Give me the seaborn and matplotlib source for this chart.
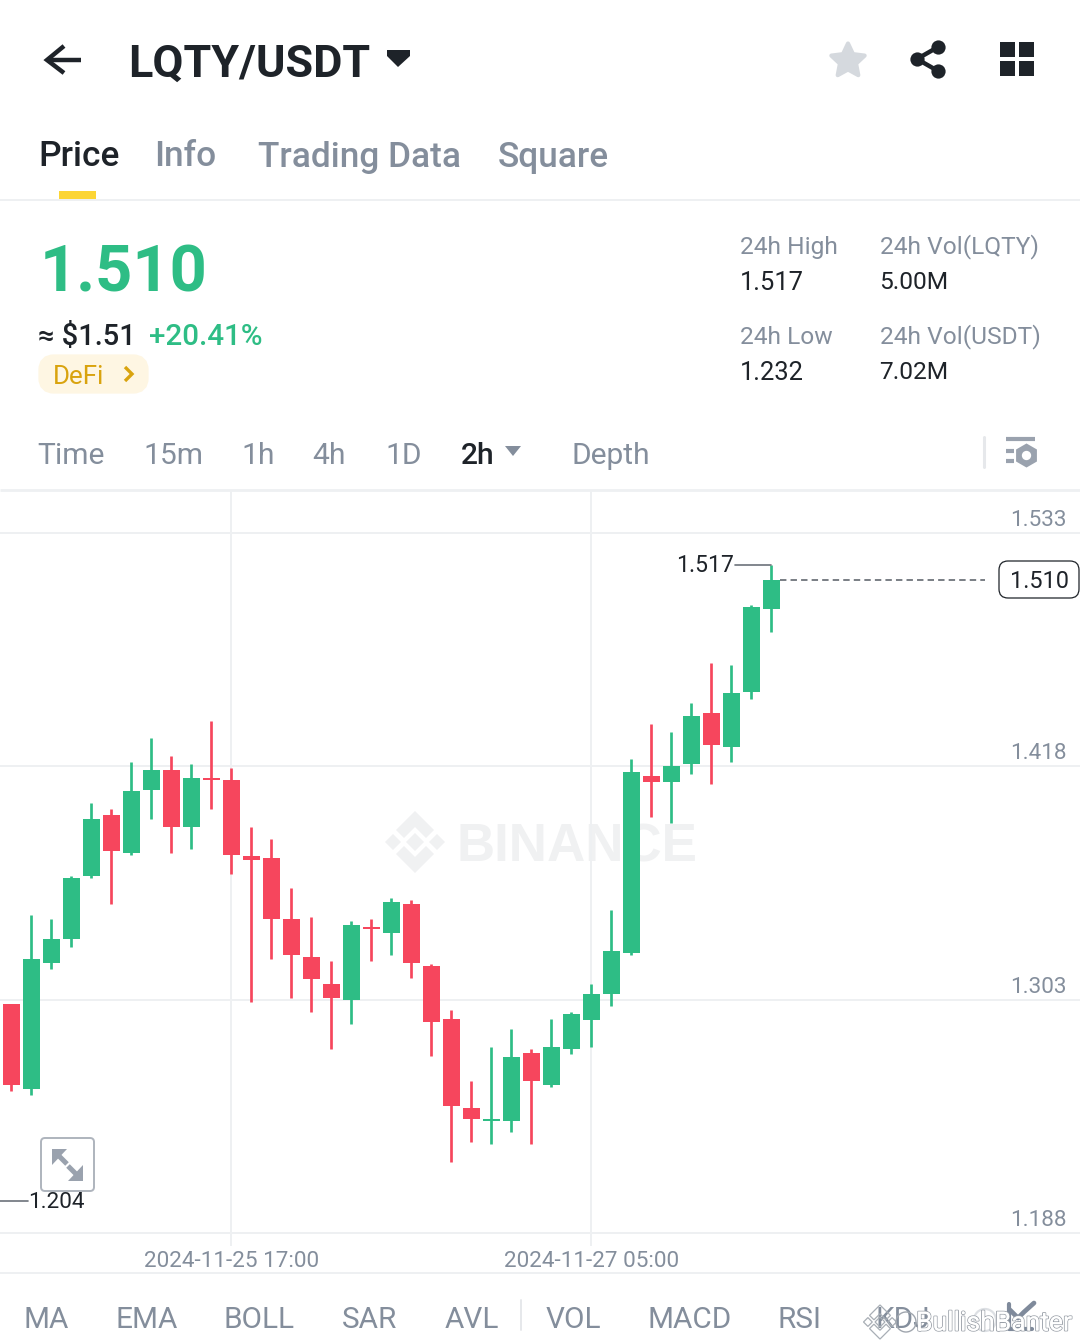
import matplotlib
matplotlib.use("Agg")
import matplotlib.pyplot as plt
import matplotlib.patheffects as pe
from matplotlib.patches import FancyBboxPatch, Polygon, Rectangle, Circle
import numpy as np
import pandas as pd
import seaborn as sns

# ---------- data ----------
colors_up = [0,1,1,1,1,0,1,1,0,1,0,0,0,0,0,0,0,1,0,1,0,0,0,0,1,1,0,1,1,1,1,1,0,1,1,0,1,1,1]
highs = [1.3009,1.3447,1.3428,1.3640,1.3999,1.3970,1.4201,1.4320,1.4231,1.4192,1.4403,1.4172,1.3881,
         1.3822,1.3580,1.3437,1.3221,1.3418,1.3428,1.3531,1.3521,1.3208,1.2979,1.2629,1.2797,1.2885,
         1.2787,1.2937,1.2969,1.3107,1.3472,1.4218,1.4389,1.4351,1.4490,1.4691,1.4681,1.4973,1.5170]
tops = [1.3009,1.3230,1.3329,1.3630,1.3920,1.3940,1.4058,1.4162,1.4162,1.4123,1.4123,1.4113,1.3738,
        1.3728,1.3428,1.3240,1.3107,1.3398,1.3388,1.3511,1.3502,1.3198,1.2937,1.2496,1.2442,1.2747,
        1.2767,1.2797,1.2957,1.3058,1.3270,1.4152,1.4130,1.4182,1.4428,1.4443,1.4541,1.4963,1.5100]
bottoms = [1.2609,1.2590,1.3211,1.3329,1.3640,1.3763,1.3753,1.4063,1.3881,1.3881,1.4113,1.3743,1.3718,
           1.3428,1.3250,1.3132,1.3038,1.3028,1.3378,1.3359,1.3211,1.2920,1.2508,1.2442,1.2432,1.2430,
           1.2629,1.2609,1.2787,1.2930,1.3058,1.3260,1.4103,1.4103,1.4192,1.4283,1.4273,1.4544,1.4953]
lows = [1.2580,1.2560,1.3181,1.3290,1.3630,1.3502,1.3743,1.3920,1.3753,1.3773,1.3970,1.3649,1.3019,
        1.3230,1.3038,1.2969,1.2787,1.2910,1.3221,1.3250,1.3137,1.2750,1.2230,1.2328,1.2319,1.2378,
        1.2319,1.2600,1.2760,1.2797,1.2999,1.3250,1.3930,1.3901,1.4142,1.4093,1.4201,1.4514,1.4844]
grid_prices = [1.533, 1.418, 1.303, 1.188]
date_ticks = [11, 29]
date_labels = ["2024-11-25 17:00", "2024-11-27 05:00"]
last_price = 1.510
peak_price = 1.517
floor_price = 1.204
tabs = ["Price", "Info", "Trading Data", "Square"]
intervals = ["Time", "15m", "1h", "4h", "1D", "2h", "Depth"]
indicators = ["MA", "EMA", "BOLL", "SAR", "AVL", "VOL", "MACD", "RSI", "KDJ"]

# ---------- palette ----------
UP, DOWN = "#2EBD85", "#F6465D"
INK, GREY, LINE = "#1E2329", "#848E9C", "#EEF0F2"

sns.set_theme(style="white")
plt.rcParams["font.family"] = ["Roboto", "DejaVu Sans"]

W, H = 1080, 1343
fig = plt.figure(figsize=(W / 100, H / 100), dpi=100, facecolor="white")

# ---------- page furniture in pixel coordinates ----------
ui = fig.add_axes([0, 0, 1, 1], zorder=0)
ui.set_xlim(0, W); ui.set_ylim(H, 0); ui.axis("off")

def px(size):
    return size * 0.72

def T(x, y, s, size, color=GREY, weight="normal", ha="left", **kw):
    return ui.text(x, y, s, fontsize=px(size), color=color, fontweight=weight,
                   ha=ha, va="center_baseline", **kw)

def poly(pts, color, **kw):
    ui.add_patch(Polygon(pts, closed=True, facecolor=color, edgecolor="none", **kw))

def rule(y, x0=0, x1=W, color=LINE, lw=1.4):
    ui.plot([x0, x1], [y, y], color=color, lw=lw, solid_capstyle="butt")

# header
ui.plot([81, 48], [60, 60], color=INK, lw=3.2, solid_capstyle="butt")
ui.plot([64, 47, 64], [46, 60, 73], color=INK, lw=3.2, solid_joinstyle="miter", solid_capstyle="butt")
T(128, 60, "LQTY/USDT", 45, INK, "bold")
poly([(387, 50), (410, 50), (410, 56), (398, 67), (387, 56)], INK)

star_angles = np.deg2rad(np.arange(10) * 36 - 90)
star_radii = np.array([17.5, 8.5] * 5)
ui.add_patch(Polygon(np.column_stack([848 + star_radii * np.cos(star_angles), 61 + star_radii * np.sin(star_angles)]),
                     closed=True, facecolor="#D5D9DE", edgecolor="#D5D9DE", lw=3.0, joinstyle="round"))

for a, b in [((917, 59), (938, 47)), ((917, 59), (938, 71))]:
    ui.plot([a[0], b[0]], [a[1], b[1]], color=INK, lw=3.2)
ui.scatter([917, 938, 938], [59, 47, 71], s=105, color=INK, linewidths=0)
for x0, y0 in [(1000, 42), (1019, 42), (1000, 61), (1019, 61)]:
    ui.add_patch(Rectangle((x0, y0), 15, 15, facecolor=INK, edgecolor="none"))

# tabs
for s, x, c in zip(tabs, [38, 154, 258.5, 497.5], [INK, GREY, GREY, GREY]):
    T(x, 153.5, s, 35.3, c, "medium")
ui.add_patch(Rectangle((59, 191), 37, 8, facecolor="#FCD535", edgecolor="none"))
rule(199.5)

# quote block
T(40, 267, "1.510", 65, UP, "bold")
T(38, 334, "≈ $1.51", 29, INK, "medium")
T(149, 334, "+20.41%", 29.5, UP, "medium")
ui.add_patch(FancyBboxPatch((46, 362), 95, 24, boxstyle="round,pad=0,rounding_size=8", mutation_aspect=1,
                            facecolor="#FEF6E3", edgecolor="#FEF6E3", lw=11))
T(53, 374, "DeFi", 26, "#D9A30E")
ui.plot([125, 132, 125], [367, 374, 381], color="#D9A30E", lw=2.4, solid_capstyle="butt", solid_joinstyle="miter")

for x, y, s, c, z in [(740, 245, "24h High", GREY, 24.5), (740, 281, "1.517", INK, 25.5),
                      (879.5, 244, "24h Vol(LQTY)", GREY, 24.5), (879, 280, "5.00M", INK, 24.5),
                      (740, 335, "24h Low", GREY, 24.5), (740, 371, "1.232", INK, 25.5),
                      (879.5, 334, "24h Vol(USDT)", GREY, 24.5), (879, 370, "7.02M", INK, 24.5)]:
    T(x, y, s, z, c)

# interval row
for s, x in zip(intervals, [37.5, 143.5, 241, 312, 385, 461, 572]):
    active = s == "2h"
    T(x, 453, s, 30, INK if active else GREY, "medium" if active else "normal")
poly([(505, 446), (521, 446), (513, 456)], GREY)
ui.plot([984, 984], [437, 467], color="#E6E8EB", lw=2.2)
rule(439, 1006, 1035, "#9AA2AE", 3)
rule(451, 1006, 1014, "#9AA2AE", 3)
rule(461, 1006, 1014, "#9AA2AE", 3)
ui.scatter([1026], [455], marker="h", s=300, color="#9AA2AE", linewidths=0)
ui.scatter([1026], [455], marker="o", s=45, color="white", linewidths=0)
rule(490, lw=2)

# chart frame
rule(1273)

# watermark logo
def logo(cx, cy, k, face, edge="none", z=1):
    shapes = [
        [(0, -9), (9, 0), (0, 9), (-9, 0)],
        [(-22, -8), (-14, 0), (-22, 8), (-30, 0)],
        [(22, -8), (30, 0), (22, 8), (14, 0)],
        [(0, -31), (19, -12), (11, -4), (0, -15), (-11, -4), (-19, -12)],
        [(0, 31), (19, 12), (11, 4), (0, 15), (-11, 4), (-19, 12)],
    ]
    for s in shapes:
        ui.add_patch(Polygon([(cx + k * a, cy + k * b) for a, b in s], closed=True,
                             facecolor=face, edgecolor=edge, lw=0.9, zorder=z))

logo(415, 842, 1.0, "#F0F1F2")
ui.text(457, 842, "BINANCE", fontsize=px(53), color="#F0F1F2", fontweight="bold",
        ha="left", va="center_baseline", family="Liberation Sans")

# expand button
ui.add_patch(FancyBboxPatch((41, 1138), 53, 53, boxstyle="round,pad=0,rounding_size=4",
                            facecolor="white", edgecolor="#AEB4BD", lw=1.4, zorder=3))
poly([(52, 1149), (67, 1149), (52, 1165)], "#9AA2AE", zorder=4)
poly([(83, 1181), (68, 1181), (83, 1165)], "#9AA2AE", zorder=4)
ui.plot([58, 67], [1155, 1164], color="#9AA2AE", lw=3.6, zorder=4, solid_capstyle="butt")
ui.plot([77, 68], [1175, 1166], color="#9AA2AE", lw=3.6, zorder=4, solid_capstyle="butt")

# last price box
ui.add_patch(FancyBboxPatch((999, 561), 80, 37, boxstyle="round,pad=0,rounding_size=9",
                            facecolor="white", edgecolor=INK, lw=0.9, zorder=3))

# indicator row
for s, x in zip(indicators, [24, 115, 223, 342, 445, 545.5, 648, 778, 875]):
    T(x, 1317, s, 29.7, GREY)
ui.plot([521, 521], [1300, 1330], color="#E6E8EB", lw=1.4)
ui.plot([1009, 1009, 1032], [1304, 1329, 1329], color="#7F8A9B", lw=3)
ui.plot([1010, 1018, 1024, 1034], [1310, 1318, 1312, 1303], color="#7F8A9B", lw=3.4)

# credit watermark
logo(880, 1322, 0.55, "none", "#A8AEB5", z=5)
ui.add_patch(Circle((906, 1322), 10, facecolor="none", edgecolor="#A0A6AE", lw=1, zorder=5))
ui.add_patch(Circle((985, 1320), 11, facecolor="none", edgecolor="#DDE0E4", lw=1.6, zorder=5))
ui.text(916, 1320, "BullishBanter", fontsize=px(26.5), color="white", ha="left", va="center_baseline", zorder=6,
        path_effects=[pe.withStroke(linewidth=1.3, foreground="#9AA0A8"), pe.Normal()])

# ---------- candle chart ----------
ax = fig.add_axes([0, 1 - 1273 / H, 1, (1273 - 491) / H], zorder=1)
ax.patch.set_visible(False)

df = pd.DataFrame({"i": np.arange(len(highs)), "up": colors_up, "high": highs, "top": tops,
                   "bottom": bottoms, "low": lows})
df["body"] = df["top"] - df["bottom"]

for flag, color in [(1, UP), (0, DOWN)]:
    sub = df[df["up"] == flag]
    ax.vlines(sub["i"], sub["low"], sub["high"], color=color, lw=px(2.7), zorder=3)
    sns.barplot(x=sub["i"].to_numpy(), y=sub["body"].to_numpy(), bottom=sub["bottom"].to_numpy(),
                native_scale=True, width=0.85, color=color, saturation=1, errorbar=None,
                linewidth=0, ax=ax, zorder=4)

X0, PER = -0.555, 54.0
Y_TOP, Y_BOTTOM = 1.5537, 1.1683
ax.set_xlim(X0, X0 + PER)
ax.set_ylim(Y_BOTTOM, Y_TOP)
ax.axis("off")

for p, s in zip(grid_prices, ["%.3f" % v for v in grid_prices]):
    ax.axhline(p, color=LINE, lw=1.4, zorder=1)
    ax.annotate(s, (1067 / W, p), xycoords=("axes fraction", "data"), xytext=(0, 15), textcoords="offset pixels",
                ha="right", va="center_baseline", fontsize=px(22.5), color=GREY)

for i, s in zip(date_ticks, date_labels):
    ax.vlines(i, 1.1815, Y_TOP, color=LINE, lw=1.4, zorder=1)
    ax.annotate(s, (i, 0), xycoords=("data", "axes fraction"), xytext=(0, 14), textcoords="offset pixels",
                ha="center", va="center_baseline", fontsize=px(22.5), color=GREY, annotation_clip=False)

# last price marker
ax.plot([38.45, 48.7], [last_price, last_price], color="#555B63", lw=1.1, ls=(0, (4.2, 2.7)), zorder=2)
ax.annotate("%.3f" % last_price, (1039 / W, last_price), xycoords=("axes fraction", "data"),
            xytext=(0, 1), textcoords="offset pixels",
            ha="center", va="center_baseline", fontsize=px(23.5), color=INK, zorder=6)

# extreme labels
ax.plot([36.2, 38], [peak_price, peak_price], color="#6C727A", lw=1.2, zorder=5)
ax.annotate("%.3f" % peak_price, (36.15, peak_price), xytext=(0, 2), textcoords="offset pixels",
            ha="right", va="center_baseline", fontsize=px(23), color=INK)
ax.plot([X0, 0.85], [floor_price, floor_price], color="#6C727A", lw=1.2, zorder=5)
ax.annotate("%.3f" % floor_price, (0.85, floor_price), xytext=(0, 1), textcoords="offset pixels",
            ha="left", va="center_baseline", fontsize=px(22.5), color=INK)

fig.savefig("out.png", dpi=100, facecolor="white")
